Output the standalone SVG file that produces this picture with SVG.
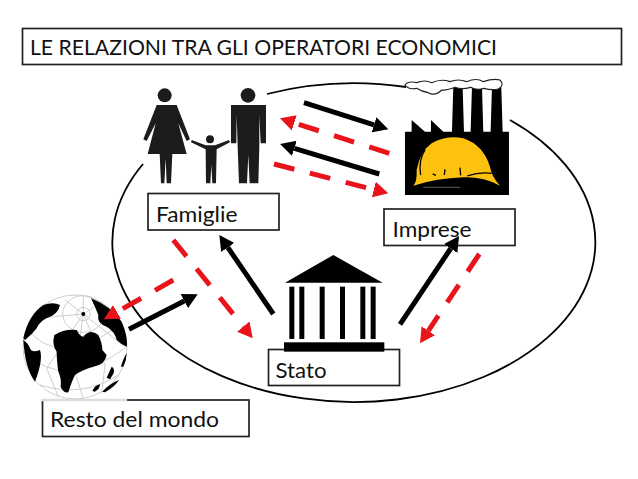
<svg xmlns="http://www.w3.org/2000/svg" width="638" height="479" viewBox="0 0 638 479">
<style>
.box{fill:#fff;stroke:#222;stroke-width:1.7}
.lbl{font-family:"Lato","Liberation Sans",sans-serif;font-size:21.500px;fill:#111}
.blk{stroke:#000;stroke-width:5;fill:none}
.red{stroke:#e9141b;stroke-width:5;fill:none;stroke-dasharray:21 16}
.grid{fill:none;stroke:#c4c4c4;stroke-width:2.500}
</style>
<defs>
<marker id="hb" markerUnits="userSpaceOnUse" markerWidth="16" markerHeight="18" refX="0" refY="8" orient="auto" viewBox="0 0 16 16"><polygon points="0,0 15,8 0,16" fill="#000"/></marker>
<marker id="hr" markerUnits="userSpaceOnUse" markerWidth="16" markerHeight="18" refX="0" refY="8" orient="auto" viewBox="0 0 16 16"><polygon points="0,0 15,8 0,16" fill="#e9141b"/></marker>
</defs>
<rect width="638" height="479" fill="#fff"/>
<g id="title"><rect class="box" x="22.500" y="28.500" width="599" height="36"/><text class="lbl" x="30" y="55" textLength="467" lengthAdjust="spacingAndGlyphs">LE RELAZIONI TRA GLI OPERATORI ECONOMICI</text></g>
<g id="sistema"><path d="M267,94A241.500,160 0 0 1 406,87M510,120A241.500,160 0 1 1 143,164" fill="none" stroke="#000" stroke-width="1.800"/></g>
<g id="famiglie">
<g transform="translate(135,80) scale(.3333)" fill="#1c1c1c">
<circle cx="89" cy="46" r="21"/>
<path d="M65,75L125,75L165,178L155,183L130,130L155,222L112,222L108,310L95,310L92,235L88,310L78,310L74,222L38,222L62,130L35,183L25,178Z"/>
<circle cx="225" cy="178" r="12"/>
<path d="M170,180L212,196L240,196L282,180L285,187L245,208L243,310L232,310L229,255L226,310L213,310L212,208L168,187Z"/>
<circle cx="339" cy="46" r="22"/>
<path d="M288,75L393,75L393,190L377,190L373,105L373,200L370,310L344,310L340,225L336,310L312,310L308,200L305,105L304,190L288,190Z"/>
</g>
<rect class="box" x="148" y="193.500" width="131" height="36.500"/><text class="lbl" x="156" y="221.500" textLength="81.500" lengthAdjust="spacingAndGlyphs">Famiglie</text>
</g>
<g id="imprese">
<g transform="translate(130,70) scale(.3333)">
<path d="M825,185L845,185L845,150L885,185L903,185L903,150L940,185L966,185L970,50L998,50L1002,185L1022,185L1026,50L1056,50L1060,185L1082,185L1086,50L1114,50L1118,185L1137,185L1137,375L825,375Z" fill="#000"/>
<path d="M825,45Q835,32 860,38Q885,28 905,38Q935,25 960,35Q985,25 1010,35Q1040,22 1060,35Q1090,25 1110,30Q1125,45 1105,57Q1085,62 1062,55Q1040,62 1022,52Q995,60 975,52Q950,62 935,60Q915,80 895,68Q875,65 860,55Q835,60 825,45Z" fill="#fff" stroke="#222" stroke-width="3.500"/>
<path d="M850,347Q862,335 860,300Q870,245 905,220Q950,195 1000,205Q1060,225 1080,290Q1085,320 1110,347Q1060,320 1000,322Q920,325 850,347Z" fill="#fdc10f"/>
<path d="M885,240Q865,270 872,315M908,312L918,316M945,298L943,315M990,293L992,316M1012,318Q1050,305 1085,310" fill="none" stroke="#000" stroke-width="4"/>
<path d="M880,352L990,352" stroke="#888" stroke-width="2"/>
</g>
<rect class="box" x="384" y="209" width="131" height="36.500"/><text class="lbl" x="392.500" y="237" textLength="79" lengthAdjust="spacingAndGlyphs">Imprese</text>
</g>
<g id="stato">
<rect class="box" x="268.500" y="349.500" width="131" height="36"/><text class="lbl" x="275.500" y="378" textLength="51" lengthAdjust="spacingAndGlyphs">Stato</text>
<g transform="translate(260,230) scale(.3333)" fill="#000">
<polygon points="75,158 220,75 368,158"/>
<rect x="88" y="170" width="15" height="157"/><rect x="118" y="170" width="15" height="157"/><rect x="179" y="170" width="15" height="157"/><rect x="240" y="170" width="15" height="157"/><rect x="301" y="170" width="15" height="157"/><rect x="332" y="170" width="15" height="157"/>
<rect x="72" y="337" width="301" height="28"/>
</g>
</g>
<g id="resto">
<rect class="box" x="42.500" y="400" width="206.500" height="36.500"/><text class="lbl" x="50" y="427" textLength="169" lengthAdjust="spacingAndGlyphs">Resto del mondo</text>
<path d="M41,400H127" stroke="#ddd" stroke-width="2.500"/>
<g transform="translate(15,285) scale(.3333)">
<circle cx="180" cy="186" r="156" fill="#fff"/>
<g class="grid">
<circle cx="180" cy="186" r="156"/>
<ellipse cx="205" cy="87" rx="62" ry="55"/><circle cx="205" cy="87" r="20"/>
<path d="M35,130Q130,250 300,130M25,200Q150,320 330,190M75,300Q200,340 310,270"/>
<path d="M205,87L60,100M205,87L95,250L130,335M205,87L180,260L205,342M205,87L270,240L260,325M205,87L335,190M205,87L205,32M205,87L150,45M205,87L262,50"/>
</g>
<path d="M25,160Q40,90 85,60Q115,50 135,60Q130,85 105,95Q75,105 65,130Q50,150 30,165Z M25,165Q40,175 45,190Q50,205 75,195Q85,225 60,290Q30,250 25,165Z M228,40Q290,65 320,110Q338,150 336,185Q320,180 305,165Q300,140 275,125Q245,115 250,90Q240,65 228,40Z M118,150Q150,130 185,135Q195,155 205,155Q225,130 250,150Q262,175 262,195L275,210Q270,240 235,245Q200,255 180,270Q170,290 160,322Q145,325 137,305Q140,280 130,260Q125,225 125,200Q110,180 118,150Z M275,278L290,245Q300,250 296,265L285,283Z M232,318Q240,300 255,298Q255,312 240,320Z M262,320Q285,295 312,285Q300,305 270,322Z M318,245Q325,220 335,205Q335,225 325,245Z" fill="#000"/>
<circle cx="205" cy="87" r="6" fill="#000"/>
</g>
</g>
<g id="connettori">
<line class="blk" x1="304" y1="102.700" x2="374" y2="124.800" marker-end="url(#hb)"/>
<line class="red" x1="389.300" y1="153.300" x2="294.300" y2="122.900" marker-end="url(#hr)"/>
<line class="blk" x1="379.300" y1="174" x2="294.400" y2="148.300" marker-end="url(#hb)"/>
<line class="red" x1="274" y1="164" x2="373.800" y2="189.600" marker-end="url(#hr)"/>
<line class="red" x1="173.300" y1="240" x2="243.300" y2="326.600" marker-end="url(#hr)"/>
<line class="blk" x1="273.300" y1="314" x2="227.800" y2="247.400" marker-end="url(#hb)"/>
<line class="blk" x1="129" y1="329.300" x2="184.300" y2="301.100" marker-end="url(#hb)"/>
<line class="red" x1="173.300" y1="280" x2="117" y2="311.900" marker-end="url(#hr)"/>
<line class="blk" x1="400" y1="324.300" x2="450.700" y2="248.500" marker-end="url(#hb)"/>
<line class="red" x1="479.300" y1="254" x2="428.300" y2="330.800" marker-end="url(#hr)"/>
</g>
</svg>
